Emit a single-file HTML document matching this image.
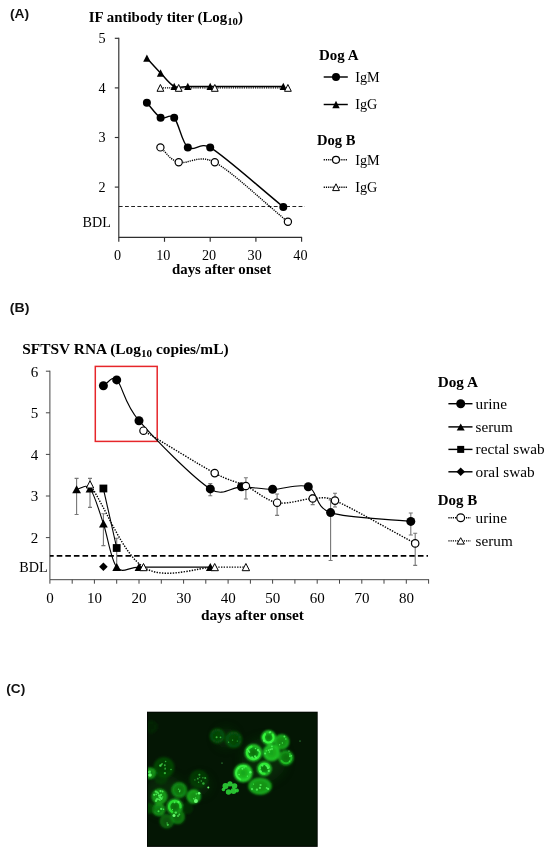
<!DOCTYPE html>
<html><head><meta charset="utf-8"><title>Figure</title>
<style>
html,body{margin:0;padding:0;background:#fff}
svg{display:block}
text{font-family:"Liberation Serif",serif;fill:#000}
.lab{font-family:"Liberation Sans",sans-serif;font-weight:bold;font-size:13.4px;fill:#111}
.b{font-weight:bold;font-size:14.8px}
.b2{font-weight:bold;font-size:15.3px}
.r{font-size:14.2px}
.r2{font-size:15px}
.ax{stroke:#2e2e2e;stroke-width:1.15;fill:none}
.ax2{stroke:#444;stroke-width:1;fill:none}
.ln{stroke:#000;stroke-width:1.45;fill:none}
.dot{stroke:#000;stroke-width:1.4;fill:none;stroke-dasharray:1.2 1.0}
.ln2{stroke:#000;stroke-width:1.1;fill:none}
.dot2{stroke:#000;stroke-width:1.4;fill:none;stroke-dasharray:1.4 1.3}
.err{stroke:#777;stroke-width:1.1;fill:none}
</style></head><body>
<svg width="550" height="853" viewBox="0 0 550 853">
<defs>
<clipPath id="cimg"><rect x="148" y="712.6" width="168.8" height="133.2"/></clipPath>
<radialGradient id="cg0"><stop offset="0" stop-color="rgb(8,91,9)" stop-opacity="0.64"/><stop offset="0.55" stop-color="rgb(9,95,10)" stop-opacity="0.64"/><stop offset="0.8" stop-color="rgb(10,103,11)" stop-opacity="0.74"/><stop offset="0.92" stop-color="rgb(8,87,8)" stop-opacity="0.45"/><stop offset="1" stop-color="rgb(5,61,5)" stop-opacity="0"/></radialGradient>
<radialGradient id="cg1"><stop offset="0" stop-color="rgb(8,89,9)" stop-opacity="0.64"/><stop offset="0.55" stop-color="rgb(9,95,10)" stop-opacity="0.64"/><stop offset="0.8" stop-color="rgb(10,105,11)" stop-opacity="0.74"/><stop offset="0.92" stop-color="rgb(8,88,8)" stop-opacity="0.45"/><stop offset="1" stop-color="rgb(5,62,5)" stop-opacity="0"/></radialGradient>
<radialGradient id="cg2"><stop offset="0" stop-color="rgb(4,48,4)" stop-opacity="0.45"/><stop offset="0.55" stop-color="rgb(4,48,4)" stop-opacity="0.45"/><stop offset="0.8" stop-color="rgb(4,48,4)" stop-opacity="0.55"/><stop offset="0.92" stop-color="rgb(4,43,4)" stop-opacity="0.32"/><stop offset="1" stop-color="rgb(4,34,4)" stop-opacity="0"/></radialGradient>
<radialGradient id="cg3"><stop offset="0" stop-color="rgb(8,88,9)" stop-opacity="0.61"/><stop offset="0.55" stop-color="rgb(8,90,9)" stop-opacity="0.61"/><stop offset="0.8" stop-color="rgb(9,94,9)" stop-opacity="0.71"/><stop offset="0.92" stop-color="rgb(7,79,7)" stop-opacity="0.43"/><stop offset="1" stop-color="rgb(5,57,5)" stop-opacity="0"/></radialGradient>
<radialGradient id="cg4"><stop offset="0" stop-color="rgb(17,142,20)" stop-opacity="0.87"/><stop offset="0.55" stop-color="rgb(20,155,23)" stop-opacity="0.87"/><stop offset="0.8" stop-color="rgb(26,176,30)" stop-opacity="0.97"/><stop offset="0.92" stop-color="rgb(18,145,20)" stop-opacity="0.61"/><stop offset="1" stop-color="rgb(9,98,10)" stop-opacity="0"/></radialGradient>
<radialGradient id="cg5"><stop offset="0" stop-color="rgb(6,73,7)" stop-opacity="0.54"/><stop offset="0.55" stop-color="rgb(6,73,7)" stop-opacity="0.54"/><stop offset="0.8" stop-color="rgb(6,73,7)" stop-opacity="0.64"/><stop offset="0.92" stop-color="rgb(5,63,6)" stop-opacity="0.38"/><stop offset="1" stop-color="rgb(4,46,4)" stop-opacity="0"/></radialGradient>
<radialGradient id="cg6"><stop offset="0" stop-color="rgb(21,156,24)" stop-opacity="0.87"/><stop offset="0.55" stop-color="rgb(22,160,25)" stop-opacity="0.87"/><stop offset="0.8" stop-color="rgb(24,168,27)" stop-opacity="0.97"/><stop offset="0.92" stop-color="rgb(17,138,19)" stop-opacity="0.61"/><stop offset="1" stop-color="rgb(9,94,9)" stop-opacity="0"/></radialGradient>
<radialGradient id="cg7"><stop offset="0" stop-color="rgb(15,130,17)" stop-opacity="0.82"/><stop offset="0.55" stop-color="rgb(17,141,19)" stop-opacity="0.82"/><stop offset="0.8" stop-color="rgb(22,161,25)" stop-opacity="0.92"/><stop offset="0.92" stop-color="rgb(15,132,17)" stop-opacity="0.57"/><stop offset="1" stop-color="rgb(8,90,9)" stop-opacity="0"/></radialGradient>
<radialGradient id="cg8"><stop offset="0" stop-color="rgb(21,155,23)" stop-opacity="0.90"/><stop offset="0.55" stop-color="rgb(23,164,26)" stop-opacity="0.90"/><stop offset="0.8" stop-color="rgb(27,180,31)" stop-opacity="1.00"/><stop offset="0.92" stop-color="rgb(19,148,21)" stop-opacity="0.63"/><stop offset="1" stop-color="rgb(9,100,10)" stop-opacity="0"/></radialGradient>
<radialGradient id="cg9"><stop offset="0" stop-color="rgb(6,74,7)" stop-opacity="0.56"/><stop offset="0.55" stop-color="rgb(6,76,7)" stop-opacity="0.56"/><stop offset="0.8" stop-color="rgb(7,79,7)" stop-opacity="0.66"/><stop offset="0.92" stop-color="rgb(6,67,6)" stop-opacity="0.39"/><stop offset="1" stop-color="rgb(4,49,4)" stop-opacity="0"/></radialGradient>
<radialGradient id="cg10"><stop offset="0" stop-color="rgb(10,103,11)" stop-opacity="0.90"/><stop offset="0.55" stop-color="rgb(18,143,20)" stop-opacity="0.90"/><stop offset="0.8" stop-color="rgb(38,211,43)" stop-opacity="1.00"/><stop offset="0.92" stop-color="rgb(25,173,29)" stop-opacity="0.63"/><stop offset="1" stop-color="rgb(12,115,13)" stop-opacity="0"/></radialGradient>
<radialGradient id="cg11"><stop offset="0" stop-color="rgb(16,136,18)" stop-opacity="0.84"/><stop offset="0.55" stop-color="rgb(19,148,21)" stop-opacity="0.84"/><stop offset="0.8" stop-color="rgb(24,168,27)" stop-opacity="0.94"/><stop offset="0.92" stop-color="rgb(17,139,19)" stop-opacity="0.59"/><stop offset="1" stop-color="rgb(9,94,9)" stop-opacity="0"/></radialGradient>
<radialGradient id="cg12"><stop offset="0" stop-color="rgb(10,105,11)" stop-opacity="0.71"/><stop offset="0.55" stop-color="rgb(12,114,13)" stop-opacity="0.71"/><stop offset="0.8" stop-color="rgb(15,129,16)" stop-opacity="0.81"/><stop offset="0.92" stop-color="rgb(11,107,12)" stop-opacity="0.50"/><stop offset="1" stop-color="rgb(6,74,7)" stop-opacity="0"/></radialGradient>
<radialGradient id="cg13"><stop offset="0" stop-color="rgb(13,120,14)" stop-opacity="0.78"/><stop offset="0.55" stop-color="rgb(15,131,17)" stop-opacity="0.78"/><stop offset="0.8" stop-color="rgb(19,149,22)" stop-opacity="0.88"/><stop offset="0.92" stop-color="rgb(13,123,15)" stop-opacity="0.55"/><stop offset="1" stop-color="rgb(7,84,8)" stop-opacity="0"/></radialGradient>
<radialGradient id="cg14"><stop offset="0" stop-color="rgb(5,63,6)" stop-opacity="0.51"/><stop offset="0.55" stop-color="rgb(5,63,6)" stop-opacity="0.51"/><stop offset="0.8" stop-color="rgb(5,63,6)" stop-opacity="0.61"/><stop offset="0.92" stop-color="rgb(5,54,5)" stop-opacity="0.35"/><stop offset="1" stop-color="rgb(4,41,4)" stop-opacity="0"/></radialGradient>
<radialGradient id="cg15"><stop offset="0" stop-color="rgb(8,91,9)" stop-opacity="0.61"/><stop offset="0.55" stop-color="rgb(8,91,9)" stop-opacity="0.61"/><stop offset="0.8" stop-color="rgb(8,91,9)" stop-opacity="0.71"/><stop offset="0.92" stop-color="rgb(7,77,7)" stop-opacity="0.43"/><stop offset="1" stop-color="rgb(5,55,5)" stop-opacity="0"/></radialGradient>
<radialGradient id="cg16"><stop offset="0" stop-color="rgb(12,114,13)" stop-opacity="0.97"/><stop offset="0.55" stop-color="rgb(22,161,25)" stop-opacity="0.97"/><stop offset="0.8" stop-color="rgb(48,239,55)" stop-opacity="1.00"/><stop offset="0.92" stop-color="rgb(32,195,37)" stop-opacity="0.68"/><stop offset="1" stop-color="rgb(15,129,16)" stop-opacity="0"/></radialGradient>
<radialGradient id="cg17"><stop offset="0" stop-color="rgb(19,148,21)" stop-opacity="0.90"/><stop offset="0.55" stop-color="rgb(22,161,25)" stop-opacity="0.90"/><stop offset="0.8" stop-color="rgb(29,184,33)" stop-opacity="1.00"/><stop offset="0.92" stop-color="rgb(20,151,22)" stop-opacity="0.63"/><stop offset="1" stop-color="rgb(10,102,11)" stop-opacity="0"/></radialGradient>
<radialGradient id="cg18"><stop offset="0" stop-color="rgb(10,104,11)" stop-opacity="0.94"/><stop offset="0.55" stop-color="rgb(19,151,22)" stop-opacity="0.94"/><stop offset="0.8" stop-color="rgb(44,227,50)" stop-opacity="1.00"/><stop offset="0.92" stop-color="rgb(29,186,33)" stop-opacity="0.65"/><stop offset="1" stop-color="rgb(14,123,15)" stop-opacity="0"/></radialGradient>
<radialGradient id="cg19"><stop offset="0" stop-color="rgb(23,166,27)" stop-opacity="0.97"/><stop offset="0.55" stop-color="rgb(28,182,32)" stop-opacity="0.97"/><stop offset="0.8" stop-color="rgb(36,208,42)" stop-opacity="1.00"/><stop offset="0.92" stop-color="rgb(25,170,28)" stop-opacity="0.68"/><stop offset="1" stop-color="rgb(12,114,13)" stop-opacity="0"/></radialGradient>
<radialGradient id="cg20"><stop offset="0" stop-color="rgb(13,122,15)" stop-opacity="0.84"/><stop offset="0.55" stop-color="rgb(18,142,20)" stop-opacity="0.84"/><stop offset="0.8" stop-color="rgb(26,177,30)" stop-opacity="0.94"/><stop offset="0.92" stop-color="rgb(18,145,21)" stop-opacity="0.59"/><stop offset="1" stop-color="rgb(9,98,10)" stop-opacity="0"/></radialGradient>
<radialGradient id="cg21"><stop offset="0" stop-color="rgb(11,109,12)" stop-opacity="0.94"/><stop offset="0.55" stop-color="rgb(20,152,22)" stop-opacity="0.94"/><stop offset="0.8" stop-color="rgb(43,225,49)" stop-opacity="1.00"/><stop offset="0.92" stop-color="rgb(29,184,33)" stop-opacity="0.65"/><stop offset="1" stop-color="rgb(13,122,15)" stop-opacity="0"/></radialGradient>
<radialGradient id="cg22"><stop offset="0" stop-color="rgb(22,160,25)" stop-opacity="1.00"/><stop offset="0.55" stop-color="rgb(30,188,34)" stop-opacity="1.00"/><stop offset="0.8" stop-color="rgb(46,235,53)" stop-opacity="1.00"/><stop offset="0.92" stop-color="rgb(31,192,35)" stop-opacity="0.70"/><stop offset="1" stop-color="rgb(14,127,16)" stop-opacity="0"/></radialGradient>
<radialGradient id="cg23"><stop offset="0" stop-color="rgb(21,155,23)" stop-opacity="0.90"/><stop offset="0.55" stop-color="rgb(23,164,26)" stop-opacity="0.90"/><stop offset="0.8" stop-color="rgb(27,180,31)" stop-opacity="1.00"/><stop offset="0.92" stop-color="rgb(19,148,21)" stop-opacity="0.63"/><stop offset="1" stop-color="rgb(9,100,10)" stop-opacity="0"/></radialGradient>
<filter id="bl" x="-5%" y="-5%" width="110%" height="110%"><feGaussianBlur stdDeviation="0.9"/></filter>
<filter id="bl2" x="-5%" y="-5%" width="110%" height="110%"><feGaussianBlur stdDeviation="0.6"/></filter>
<filter id="bl3" x="-20%" y="-20%" width="140%" height="140%"><feGaussianBlur stdDeviation="5"/></filter>
</defs>
<rect width="550" height="853" fill="#fff"/>
<g id="pa">
<text x="10" y="18.4" class="lab" textLength="19.2" lengthAdjust="spacingAndGlyphs">(A)</text>
<text x="88.8" y="22.3" class="b" textLength="154.2" lengthAdjust="spacingAndGlyphs">IF antibody titer (Log<tspan font-size="10.8" dy="3">10</tspan><tspan dy="-3">)</tspan></text>
<path d="M118.8,37.8 V237.4 H302.1" class="ax"/>
<path d="M114.8,187.1 H118.8" class="ax"/>
<text x="105.5" y="191.7" class="r" text-anchor="end">2</text>
<path d="M114.8,137.5 H118.8" class="ax"/>
<text x="105.5" y="142.1" class="r" text-anchor="end">3</text>
<path d="M114.8,87.9 H118.8" class="ax"/>
<text x="105.5" y="92.5" class="r" text-anchor="end">4</text>
<path d="M114.8,38.3 H118.8" class="ax"/>
<text x="105.5" y="42.9" class="r" text-anchor="end">5</text>
<path d="M118.8,237.4 v4.4" class="ax"/>
<text x="117.6" y="259.7" class="r" text-anchor="middle">0</text>
<path d="M164.5,237.4 v4.4" class="ax"/>
<text x="163.3" y="259.7" class="r" text-anchor="middle">10</text>
<path d="M210.2,237.4 v4.4" class="ax"/>
<text x="209.0" y="259.7" class="r" text-anchor="middle">20</text>
<path d="M255.9,237.4 v4.4" class="ax"/>
<text x="254.7" y="259.7" class="r" text-anchor="middle">30</text>
<path d="M301.6,237.4 v4.4" class="ax"/>
<text x="300.4" y="259.7" class="r" text-anchor="middle">40</text>
<text x="82.6" y="226.7" class="r" textLength="28.2" lengthAdjust="spacingAndGlyphs">BDL</text>
<text x="172" y="274" class="b" textLength="99.2" lengthAdjust="spacingAndGlyphs">days after onset</text>
<path d="M118.8,206.5 H305" stroke="#222" stroke-width="1.1" stroke-dasharray="3.8 2.4" fill="none"/>
<path d="M160.39,87.90 C166.48,87.90 169.60,87.90 178.67,87.90 C187.73,87.90 196.72,87.90 214.77,87.90 C232.97,87.90 263.52,87.90 287.89,87.90" class="dot"/>
<path d="M160.39,147.42 C166.48,152.38 169.60,159.82 178.67,162.30 C187.73,164.78 198.92,153.66 214.77,162.30 C232.97,172.22 263.52,201.98 287.89,221.82" class="dot"/>
<path d="M146.91,58.14 C151.48,63.10 156.07,68.31 160.62,73.02 C165.16,77.73 169.66,84.18 174.19,86.41 C178.72,88.64 181.81,86.41 187.81,86.41 C193.81,86.41 199.00,86.41 210.20,86.41 C226.12,86.41 258.95,86.41 283.32,86.41" class="ln"/>
<path d="M146.91,102.78 C151.48,107.74 156.07,115.18 160.62,117.66 C165.16,120.14 169.66,112.70 174.19,117.66 C178.72,122.62 181.81,142.46 187.81,147.42 C193.81,152.38 200.70,141.50 210.20,147.42 C226.12,157.34 258.95,187.10 283.32,206.94" class="ln"/>
<polygon points="146.9,54.4 150.6,61.8 143.2,61.8" fill="#000"/>
<polygon points="160.6,69.3 164.3,76.7 156.9,76.7" fill="#000"/>
<polygon points="174.2,82.7 177.9,90.1 170.5,90.1" fill="#000"/>
<polygon points="187.8,82.7 191.5,90.1 184.1,90.1" fill="#000"/>
<polygon points="210.2,82.7 213.9,90.1 206.5,90.1" fill="#000"/>
<polygon points="283.3,82.7 287.0,90.1 279.6,90.1" fill="#000"/>
<polygon points="160.4,84.5 163.8,91.3 157.0,91.3" fill="#fff" stroke="#000" stroke-width="1"/>
<polygon points="178.7,84.5 182.1,91.3 175.3,91.3" fill="#fff" stroke="#000" stroke-width="1"/>
<polygon points="214.8,84.5 218.2,91.3 211.4,91.3" fill="#fff" stroke="#000" stroke-width="1"/>
<polygon points="287.9,84.5 291.3,91.3 284.5,91.3" fill="#fff" stroke="#000" stroke-width="1"/>
<circle cx="146.9" cy="102.8" r="4.0" fill="#000"/>
<circle cx="160.6" cy="117.7" r="4.0" fill="#000"/>
<circle cx="174.2" cy="117.7" r="4.0" fill="#000"/>
<circle cx="187.8" cy="147.4" r="4.0" fill="#000"/>
<circle cx="210.2" cy="147.4" r="4.0" fill="#000"/>
<circle cx="283.3" cy="206.9" r="4.0" fill="#000"/>
<circle cx="160.4" cy="147.4" r="3.6" fill="#fff" stroke="#000" stroke-width="1.2"/>
<circle cx="178.7" cy="162.3" r="3.6" fill="#fff" stroke="#000" stroke-width="1.2"/>
<circle cx="214.8" cy="162.3" r="3.6" fill="#fff" stroke="#000" stroke-width="1.2"/>
<circle cx="287.9" cy="221.8" r="3.6" fill="#fff" stroke="#000" stroke-width="1.2"/>
<text x="319" y="59.8" class="b" textLength="39.5" lengthAdjust="spacingAndGlyphs">Dog A</text>
<text x="317" y="144.5" class="b" textLength="38.5" lengthAdjust="spacingAndGlyphs">Dog B</text>
<path d="M323.7,77 H347.8" class="ln"/>
<circle cx="336.0" cy="77.0" r="4.0" fill="#000"/>
<text x="355.2" y="81.7" class="r">IgM</text>
<path d="M323.7,104.5 H347.8" class="ln"/>
<polygon points="336.0,100.8 339.7,108.2 332.3,108.2" fill="#000"/>
<text x="355.2" y="109.2" class="r">IgG</text>
<path d="M323.7,159.8 H347" class="dot"/>
<circle cx="336.0" cy="159.8" r="3.5" fill="#fff" stroke="#000" stroke-width="1.2"/>
<text x="355.2" y="164.5" class="r">IgM</text>
<path d="M323.7,187.2 H347" class="dot"/>
<polygon points="336.0,183.8 339.4,190.6 332.6,190.6" fill="#fff" stroke="#000" stroke-width="1"/>
<text x="355.2" y="191.9" class="r">IgG</text>
</g>
<g id="pb">
<text x="9.8" y="311.6" class="lab" textLength="19.6" lengthAdjust="spacingAndGlyphs">(B)</text>
<text x="22.3" y="353.6" class="b2" textLength="206.3" lengthAdjust="spacingAndGlyphs">SFTSV RNA (Log<tspan font-size="11" dy="3">10</tspan><tspan dy="-3"> copies/mL)</tspan></text>
<path d="M49.9,370.7 V579.7 H429.075" class="ax2"/>
<path d="M45.9,537.6 H49.9" class="ax2"/>
<text x="38.3" y="542.9" class="r2" text-anchor="end">2</text>
<path d="M45.9,496.0 H49.9" class="ax2"/>
<text x="38.3" y="501.3" class="r2" text-anchor="end">3</text>
<path d="M45.9,454.4 H49.9" class="ax2"/>
<text x="38.3" y="459.7" class="r2" text-anchor="end">4</text>
<path d="M45.9,412.8 H49.9" class="ax2"/>
<text x="38.3" y="418.1" class="r2" text-anchor="end">5</text>
<path d="M45.9,371.2 H49.9" class="ax2"/>
<text x="38.3" y="376.5" class="r2" text-anchor="end">6</text>
<path d="M49.9,579.7 v4" class="ax2"/>
<path d="M72.2,579.7 v4" class="ax2"/>
<path d="M94.4,579.7 v4" class="ax2"/>
<path d="M116.7,579.7 v4" class="ax2"/>
<path d="M139.0,579.7 v4" class="ax2"/>
<path d="M161.3,579.7 v4" class="ax2"/>
<path d="M183.6,579.7 v4" class="ax2"/>
<path d="M205.8,579.7 v4" class="ax2"/>
<path d="M228.1,579.7 v4" class="ax2"/>
<path d="M250.4,579.7 v4" class="ax2"/>
<path d="M272.6,579.7 v4" class="ax2"/>
<path d="M294.9,579.7 v4" class="ax2"/>
<path d="M317.2,579.7 v4" class="ax2"/>
<path d="M339.5,579.7 v4" class="ax2"/>
<path d="M361.8,579.7 v4" class="ax2"/>
<path d="M384.0,579.7 v4" class="ax2"/>
<path d="M406.3,579.7 v4" class="ax2"/>
<path d="M428.6,579.7 v4" class="ax2"/>
<text x="50.0" y="603.1" class="r2" text-anchor="middle">0</text>
<text x="94.5" y="603.1" class="r2" text-anchor="middle">10</text>
<text x="139.1" y="603.1" class="r2" text-anchor="middle">20</text>
<text x="183.7" y="603.1" class="r2" text-anchor="middle">30</text>
<text x="228.2" y="603.1" class="r2" text-anchor="middle">40</text>
<text x="272.8" y="603.1" class="r2" text-anchor="middle">50</text>
<text x="317.3" y="603.1" class="r2" text-anchor="middle">60</text>
<text x="361.9" y="603.1" class="r2" text-anchor="middle">70</text>
<text x="406.4" y="603.1" class="r2" text-anchor="middle">80</text>
<text x="19.3" y="572.2" class="r2" textLength="28.3" lengthAdjust="spacingAndGlyphs">BDL</text>
<text x="201" y="619.5" class="b2" textLength="103" lengthAdjust="spacingAndGlyphs">days after onset</text>
<path d="M49.9,555.9 H428" stroke="#000" stroke-width="1.6" stroke-dasharray="5.6 3" stroke-dashoffset="1.8" fill="none"/>
<rect x="95.3" y="366.4" width="61.9" height="75" fill="none" stroke="#e6262a" stroke-width="1.5"/>
<path d="M76.6,478.4 V514.5 M74.6,478.4 h4 M74.6,514.5 h4" class="err"/>
<path d="M90.0,478.4 V507.4 M88.0,478.4 h4 M88.0,507.4 h4" class="err"/>
<path d="M103.4,513.8 V545.6 M101.4,513.8 h4 M101.4,545.6 h4" class="err"/>
<path d="M116.7,538.2 V567.0 M114.7,538.2 h4 M114.7,567.0 h4" class="err"/>
<path d="M210.3,483.5 V495.8 M208.3,483.5 h4 M208.3,495.8 h4" class="err"/>
<path d="M245.9,477.8 V499.0 M243.9,477.8 h4 M243.9,499.0 h4" class="err"/>
<path d="M277.1,494.0 V515.4 M275.1,494.0 h4 M275.1,515.4 h4" class="err"/>
<path d="M312.7,494.5 V504.6 M310.7,494.5 h4 M310.7,504.6 h4" class="err"/>
<path d="M335.0,493.2 V507.0 M333.0,493.2 h4 M333.0,507.0 h4" class="err"/>
<path d="M330.6,500.0 V560.5 M328.6,500.0 h4 M328.6,560.5 h4" class="err"/>
<path d="M410.8,513.0 V535.0 M408.8,513.0 h4 M408.8,535.0 h4" class="err"/>
<path d="M415.2,533.3 V565.4 M413.2,533.3 h4 M413.2,565.4 h4" class="err"/>
<path d="M90.00,484.35 C107.82,511.95 122.67,553.34 143.46,567.14 C164.25,580.93 197.66,567.14 214.74,567.14 C230.33,567.14 235.53,567.14 245.92,567.14" class="dot2"/>
<path d="M143.46,430.69 C167.22,444.83 197.66,463.90 214.74,473.12 C229.58,481.14 235.53,481.09 245.92,486.02 C256.31,490.94 265.97,500.58 277.11,502.66 C288.24,504.74 303.09,498.84 312.75,498.50 C322.40,498.15 324.78,496.08 335.02,500.58 C352.10,508.06 388.48,529.14 415.21,543.42" class="dot2"/>
<path d="M76.63,489.34 C81.08,489.07 85.87,483.24 90.00,488.51 C94.45,494.20 98.91,510.35 103.36,523.46 C107.81,536.56 110.78,559.86 116.72,567.14 C122.66,574.42 127.86,567.14 139.00,567.14 C154.59,567.14 186.52,567.14 210.28,567.14" class="ln2"/>
<path d="M103.36,488.51 L116.72,548.00" class="ln2"/>
<path d="M103.36,385.76 C107.81,383.82 111.52,374.83 116.72,379.94 C122.66,385.76 123.87,403.08 139.00,420.70 C154.59,438.87 193.20,477.90 210.28,488.93 C223.41,497.40 231.07,486.78 241.47,486.85 C251.86,486.92 261.51,489.34 272.65,489.34 C283.79,489.34 298.64,482.97 308.29,486.85 C317.94,490.73 314.42,507.20 330.56,512.64 C347.64,518.39 384.02,518.46 410.75,521.38" class="ln2"/>
<polygon points="76.6,485.3 81.0,493.3 72.2,493.3" fill="#000"/>
<polygon points="90.0,484.5 94.4,492.5 85.6,492.5" fill="#000"/>
<polygon points="103.4,519.5 107.8,527.5 99.0,527.5" fill="#000"/>
<polygon points="116.7,563.1 121.1,571.1 112.3,571.1" fill="#000"/>
<polygon points="139.0,563.1 143.4,571.1 134.6,571.1" fill="#000"/>
<polygon points="210.3,563.1 214.7,571.1 205.9,571.1" fill="#000"/>
<rect x="99.5" y="484.6" width="7.8" height="7.8" fill="#000"/>
<rect x="112.8" y="544.1" width="7.8" height="7.8" fill="#000"/>
<polygon points="103.4,562.4 107.7,566.7 103.4,571.0 99.1,566.7" fill="#000"/>
<polygon points="90.0,480.8 93.7,488.0 86.3,488.0" fill="#fff" stroke="#000" stroke-width="1"/>
<polygon points="143.5,563.5 147.2,570.7 139.8,570.7" fill="#fff" stroke="#000" stroke-width="1"/>
<polygon points="214.7,563.5 218.4,570.7 211.0,570.7" fill="#fff" stroke="#000" stroke-width="1"/>
<polygon points="245.9,563.5 249.6,570.7 242.2,570.7" fill="#fff" stroke="#000" stroke-width="1"/>
<circle cx="103.4" cy="385.8" r="4.5" fill="#000"/>
<circle cx="116.7" cy="379.9" r="4.5" fill="#000"/>
<circle cx="139.0" cy="420.7" r="4.5" fill="#000"/>
<circle cx="210.3" cy="488.9" r="4.5" fill="#000"/>
<circle cx="241.5" cy="486.8" r="4.5" fill="#000"/>
<circle cx="272.6" cy="489.3" r="4.5" fill="#000"/>
<circle cx="308.3" cy="486.8" r="4.5" fill="#000"/>
<circle cx="330.6" cy="512.6" r="4.5" fill="#000"/>
<circle cx="410.8" cy="521.4" r="4.5" fill="#000"/>
<circle cx="143.5" cy="430.7" r="3.7" fill="#fff" stroke="#000" stroke-width="1.2"/>
<circle cx="214.7" cy="473.1" r="3.7" fill="#fff" stroke="#000" stroke-width="1.2"/>
<circle cx="245.9" cy="486.0" r="3.7" fill="#fff" stroke="#000" stroke-width="1.2"/>
<circle cx="277.1" cy="502.7" r="3.7" fill="#fff" stroke="#000" stroke-width="1.2"/>
<circle cx="312.7" cy="498.5" r="3.7" fill="#fff" stroke="#000" stroke-width="1.2"/>
<circle cx="335.0" cy="500.6" r="3.7" fill="#fff" stroke="#000" stroke-width="1.2"/>
<circle cx="415.2" cy="543.4" r="3.7" fill="#fff" stroke="#000" stroke-width="1.2"/>
<text x="437.7" y="386.5" class="b2" textLength="40.2" lengthAdjust="spacingAndGlyphs">Dog A</text>
<text x="437.7" y="504.7" class="b2" textLength="39.5" lengthAdjust="spacingAndGlyphs">Dog B</text>
<path d="M448.4,403.7 H472.5" class="ln"/>
<circle cx="460.7" cy="403.7" r="4.5" fill="#000"/>
<text x="475.6" y="408.6" class="r2" textLength="31.4" lengthAdjust="spacingAndGlyphs">urine</text>
<path d="M448.4,426.9 H472.5" class="ln"/>
<polygon points="460.7,423.4 464.7,430.4 456.7,430.4" fill="#000"/>
<text x="475.6" y="431.8" class="r2" textLength="37.1" lengthAdjust="spacingAndGlyphs">serum</text>
<path d="M448.4,449.4 H472.5" class="ln"/>
<rect x="457.2" y="445.9" width="7.0" height="7.0" fill="#000"/>
<text x="475.6" y="454.3" class="r2" textLength="69" lengthAdjust="spacingAndGlyphs">rectal swab</text>
<path d="M448.4,471.8 H472.5" class="ln"/>
<polygon points="460.7,467.5 465.0,471.8 460.7,476.1 456.4,471.8" fill="#000"/>
<text x="475.6" y="476.7" class="r2" textLength="59.1" lengthAdjust="spacingAndGlyphs">oral swab</text>
<path d="M448.4,517.7 H470.8" class="dot"/>
<circle cx="460.7" cy="517.7" r="3.9" fill="#fff" stroke="#000" stroke-width="1.2"/>
<text x="475.6" y="522.6" class="r2" textLength="31.4" lengthAdjust="spacingAndGlyphs">urine</text>
<path d="M448.4,540.9 H470.8" class="dot"/>
<polygon points="460.7,537.7 464.4,544.1 457.0,544.1" fill="#fff" stroke="#000" stroke-width="1"/>
<text x="475.6" y="545.8" class="r2" textLength="37.1" lengthAdjust="spacingAndGlyphs">serum</text>
</g>
<g id="pc">
<text x="6.3" y="692.5" class="lab" textLength="19" lengthAdjust="spacingAndGlyphs">(C)</text>
<rect x="147" y="711.7" width="170.7" height="135.2" fill="#010601"/>
<rect x="148" y="712.6" width="168.8" height="133.2" fill="#041604"/>
<g clip-path="url(#cimg)">
<g filter="url(#bl3)" opacity="0.5">
<circle cx="165" cy="795" r="20" fill="#0b3a0d"/>
<circle cx="264" cy="760" r="22" fill="#0b3a0d"/>
<circle cx="200" cy="785" r="10" fill="#0b3a0d"/>
<circle cx="226" cy="738" r="10" fill="#0b3a0d"/>
</g>
<g filter="url(#bl)">
<ellipse cx="217.3" cy="735.9" rx="8.3" ry="8.3" fill="url(#cg0)"/>
<ellipse cx="233.7" cy="739.6" rx="9.3" ry="9.3" fill="url(#cg1)"/>
<ellipse cx="151" cy="726.8" rx="7.3" ry="7.3" fill="url(#cg2)"/>
<ellipse cx="163.9" cy="767.5" rx="11.3" ry="11.3" fill="url(#cg3)"/>
<ellipse cx="150" cy="773.3" rx="6.3" ry="6.3" fill="url(#cg4)"/>
<ellipse cx="161" cy="777.6" rx="7.3" ry="7.3" fill="url(#cg5)"/>
<ellipse cx="159.5" cy="796.5" rx="8.6" ry="8.6" fill="url(#cg6)"/>
<ellipse cx="179.2" cy="790" rx="8.6" ry="8.6" fill="url(#cg7)"/>
<ellipse cx="193.7" cy="796.5" rx="7.8" ry="7.8" fill="url(#cg8)"/>
<ellipse cx="198.8" cy="779" rx="10.0" ry="10.0" fill="url(#cg9)"/>
<ellipse cx="174.8" cy="806.7" rx="8.6" ry="8.6" fill="url(#cg10)"/>
<ellipse cx="158.8" cy="809.6" rx="7.1" ry="7.1" fill="url(#cg11)"/>
<ellipse cx="166.8" cy="821.3" rx="7.8" ry="7.8" fill="url(#cg12)"/>
<ellipse cx="177.7" cy="817" rx="7.8" ry="7.8" fill="url(#cg13)"/>
<ellipse cx="187.2" cy="808.2" rx="6.3" ry="6.3" fill="url(#cg14)"/>
<ellipse cx="149.4" cy="808.2" rx="5.8" ry="5.8" fill="url(#cg15)"/>
<ellipse cx="268.6" cy="737.5" rx="7.8" ry="7.8" fill="url(#cg16)"/>
<ellipse cx="281.7" cy="741.8" rx="8.3" ry="8.3" fill="url(#cg17)"/>
<ellipse cx="253.4" cy="752.7" rx="9.3" ry="9.3" fill="url(#cg18)"/>
<ellipse cx="271.5" cy="752.7" rx="9.3" ry="9.3" fill="url(#cg19)"/>
<ellipse cx="286" cy="757.8" rx="8.3" ry="8.3" fill="url(#cg20)"/>
<ellipse cx="264.3" cy="768.7" rx="7.8" ry="7.8" fill="url(#cg21)"/>
<ellipse cx="243.2" cy="773" rx="10.0" ry="10.0" fill="url(#cg22)"/>
<ellipse cx="260" cy="786.2" rx="12.8" ry="9.3" fill="url(#cg23)"/>
</g>
<g filter="url(#bl2)">
<circle cx="216.6" cy="737.2" r="0.99" fill="#52f85c" fill-opacity="0.62"/>
<circle cx="220.5" cy="737.4" r="0.82" fill="#52f85c" fill-opacity="0.62"/>
<circle cx="237.3" cy="741.0" r="0.62" fill="#52f85c" fill-opacity="0.62"/>
<circle cx="232.6" cy="740.1" r="0.65" fill="#52f85c" fill-opacity="0.62"/>
<circle cx="228.6" cy="742.2" r="0.67" fill="#52f85c" fill-opacity="0.62"/>
<circle cx="164.9" cy="773.1" r="1.17" fill="#52f85c" fill-opacity="0.60"/>
<circle cx="160.4" cy="765.7" r="1.19" fill="#52f85c" fill-opacity="0.60"/>
<circle cx="171.0" cy="769.6" r="0.77" fill="#52f85c" fill-opacity="0.60"/>
<circle cx="165.1" cy="769.0" r="0.79" fill="#52f85c" fill-opacity="0.60"/>
<circle cx="164.8" cy="765.3" r="0.95" fill="#52f85c" fill-opacity="0.60"/>
<circle cx="161.5" cy="764.6" r="0.93" fill="#52f85c" fill-opacity="0.60"/>
<circle cx="165.2" cy="768.1" r="0.72" fill="#52f85c" fill-opacity="0.60"/>
<circle cx="162.1" cy="763.7" r="0.79" fill="#52f85c" fill-opacity="0.60"/>
<circle cx="160.1" cy="765.3" r="0.78" fill="#52f85c" fill-opacity="0.60"/>
<circle cx="165.6" cy="761.5" r="0.75" fill="#52f85c" fill-opacity="0.60"/>
<circle cx="147.8" cy="772.2" r="1.13" fill="#52f85c" fill-opacity="0.80"/>
<circle cx="149.8" cy="771.7" r="1.19" fill="#52f85c" fill-opacity="0.80"/>
<circle cx="161.7" cy="798.5" r="1.05" fill="#52f85c" fill-opacity="0.80"/>
<circle cx="161.5" cy="799.3" r="0.62" fill="#52f85c" fill-opacity="0.80"/>
<circle cx="157.1" cy="792.2" r="0.94" fill="#52f85c" fill-opacity="0.80"/>
<circle cx="161.2" cy="794.8" r="1.02" fill="#52f85c" fill-opacity="0.80"/>
<circle cx="156.3" cy="794.3" r="0.87" fill="#52f85c" fill-opacity="0.80"/>
<circle cx="162.6" cy="791.5" r="0.88" fill="#52f85c" fill-opacity="0.80"/>
<circle cx="159.0" cy="795.6" r="1.02" fill="#52f85c" fill-opacity="0.80"/>
<circle cx="155.8" cy="791.6" r="1.09" fill="#52f85c" fill-opacity="0.80"/>
<circle cx="158.9" cy="799.3" r="1.00" fill="#52f85c" fill-opacity="0.80"/>
<circle cx="162.7" cy="797.0" r="0.70" fill="#52f85c" fill-opacity="0.80"/>
<circle cx="160.3" cy="797.2" r="1.06" fill="#52f85c" fill-opacity="0.80"/>
<circle cx="160.9" cy="798.0" r="0.83" fill="#52f85c" fill-opacity="0.80"/>
<circle cx="160.3" cy="795.7" r="0.87" fill="#52f85c" fill-opacity="0.80"/>
<circle cx="154.2" cy="794.8" r="1.09" fill="#52f85c" fill-opacity="0.80"/>
<circle cx="161.0" cy="794.8" r="0.85" fill="#52f85c" fill-opacity="0.80"/>
<circle cx="156.0" cy="800.8" r="1.17" fill="#52f85c" fill-opacity="0.80"/>
<circle cx="160.5" cy="797.9" r="0.74" fill="#52f85c" fill-opacity="0.80"/>
<circle cx="159.9" cy="799.9" r="0.95" fill="#52f85c" fill-opacity="0.80"/>
<circle cx="159.4" cy="797.3" r="0.85" fill="#52f85c" fill-opacity="0.80"/>
<circle cx="156.9" cy="799.3" r="1.17" fill="#52f85c" fill-opacity="0.80"/>
<circle cx="158.2" cy="793.2" r="0.97" fill="#52f85c" fill-opacity="0.80"/>
<circle cx="159.0" cy="795.6" r="1.14" fill="#52f85c" fill-opacity="0.80"/>
<circle cx="160.5" cy="791.1" r="1.08" fill="#52f85c" fill-opacity="0.80"/>
<circle cx="157.2" cy="798.3" r="0.66" fill="#52f85c" fill-opacity="0.80"/>
<circle cx="178.5" cy="789.2" r="0.64" fill="#52f85c" fill-opacity="0.76"/>
<circle cx="179.6" cy="791.6" r="0.80" fill="#52f85c" fill-opacity="0.76"/>
<circle cx="179.9" cy="790.2" r="0.69" fill="#52f85c" fill-opacity="0.76"/>
<circle cx="195.6" cy="797.9" r="0.62" fill="#52f85c" fill-opacity="0.82"/>
<circle cx="196.3" cy="793.9" r="0.69" fill="#52f85c" fill-opacity="0.82"/>
<circle cx="193.7" cy="798.8" r="0.82" fill="#52f85c" fill-opacity="0.82"/>
<circle cx="203.4" cy="783.5" r="1.20" fill="#52f85c" fill-opacity="0.56"/>
<circle cx="194.9" cy="779.9" r="0.65" fill="#52f85c" fill-opacity="0.56"/>
<circle cx="201.3" cy="780.9" r="0.76" fill="#52f85c" fill-opacity="0.56"/>
<circle cx="199.7" cy="777.3" r="0.61" fill="#52f85c" fill-opacity="0.56"/>
<circle cx="202.9" cy="777.7" r="0.69" fill="#52f85c" fill-opacity="0.56"/>
<circle cx="197.8" cy="778.7" r="0.92" fill="#52f85c" fill-opacity="0.56"/>
<circle cx="205.2" cy="778.1" r="1.02" fill="#52f85c" fill-opacity="0.56"/>
<circle cx="198.6" cy="782.3" r="0.70" fill="#52f85c" fill-opacity="0.56"/>
<circle cx="199.4" cy="774.7" r="1.07" fill="#52f85c" fill-opacity="0.56"/>
<ellipse cx="174.8" cy="806.7" rx="5.7" ry="5.7" fill="none" stroke="rgb(42,224,49)" stroke-width="2.3" stroke-opacity="0.90" stroke-linecap="round" stroke-dasharray="23.9 22.0" transform="rotate(119 174.8 806.7)"/>
<circle cx="175.8" cy="812.6" r="1.19" fill="#52f85c" fill-opacity="0.82"/>
<circle cx="178.4" cy="801.9" r="1.09" fill="#52f85c" fill-opacity="0.82"/>
<circle cx="174.5" cy="802.4" r="0.91" fill="#52f85c" fill-opacity="0.82"/>
<circle cx="172.5" cy="809.6" r="0.62" fill="#52f85c" fill-opacity="0.82"/>
<circle cx="158.5" cy="811.3" r="1.02" fill="#52f85c" fill-opacity="0.78"/>
<circle cx="161.2" cy="808.9" r="1.16" fill="#52f85c" fill-opacity="0.78"/>
<circle cx="163.5" cy="809.2" r="0.82" fill="#52f85c" fill-opacity="0.78"/>
<circle cx="167.1" cy="823.0" r="0.72" fill="#52f85c" fill-opacity="0.68"/>
<circle cx="167.8" cy="824.8" r="1.14" fill="#52f85c" fill-opacity="0.68"/>
<circle cx="179.3" cy="814.5" r="0.99" fill="#52f85c" fill-opacity="0.73"/>
<circle cx="178.0" cy="816.0" r="1.00" fill="#52f85c" fill-opacity="0.73"/>
<ellipse cx="268.6" cy="737.5" rx="4.9" ry="4.9" fill="none" stroke="rgb(54,252,62)" stroke-width="2.3" stroke-opacity="0.90" stroke-linecap="round" stroke-dasharray="21.2 19.6" transform="rotate(327 268.6 737.5)"/>
<circle cx="269.6" cy="732.4" r="0.89" fill="#52f85c" fill-opacity="0.88"/>
<circle cx="270.9" cy="742.3" r="0.80" fill="#52f85c" fill-opacity="0.88"/>
<circle cx="270.4" cy="732.0" r="0.84" fill="#52f85c" fill-opacity="0.88"/>
<circle cx="264.0" cy="740.8" r="1.03" fill="#52f85c" fill-opacity="0.88"/>
<circle cx="282.4" cy="743.0" r="0.69" fill="#52f85c" fill-opacity="0.82"/>
<circle cx="285.8" cy="739.0" r="0.69" fill="#52f85c" fill-opacity="0.82"/>
<circle cx="284.4" cy="736.6" r="0.99" fill="#52f85c" fill-opacity="0.82"/>
<circle cx="279.6" cy="744.7" r="0.68" fill="#52f85c" fill-opacity="0.82"/>
<ellipse cx="253.4" cy="752.7" rx="6.4" ry="6.4" fill="none" stroke="rgb(48,239,55)" stroke-width="2.3" stroke-opacity="0.93" stroke-linecap="round" stroke-dasharray="26.9 23.4" transform="rotate(5 253.4 752.7)"/>
<circle cx="259.4" cy="751.6" r="0.92" fill="#52f85c" fill-opacity="0.85"/>
<circle cx="258.3" cy="750.5" r="1.12" fill="#52f85c" fill-opacity="0.85"/>
<circle cx="255.5" cy="748.5" r="0.75" fill="#52f85c" fill-opacity="0.85"/>
<circle cx="252.1" cy="757.3" r="0.95" fill="#52f85c" fill-opacity="0.85"/>
<circle cx="253.1" cy="758.0" r="0.68" fill="#52f85c" fill-opacity="0.85"/>
<circle cx="257.7" cy="749.9" r="0.87" fill="#52f85c" fill-opacity="0.85"/>
<circle cx="247.4" cy="749.3" r="0.85" fill="#52f85c" fill-opacity="0.85"/>
<circle cx="258.3" cy="749.9" r="0.92" fill="#52f85c" fill-opacity="0.85"/>
<circle cx="249.4" cy="752.1" r="0.86" fill="#52f85c" fill-opacity="0.85"/>
<circle cx="255.0" cy="756.4" r="1.08" fill="#52f85c" fill-opacity="0.85"/>
<circle cx="256.0" cy="757.6" r="1.04" fill="#52f85c" fill-opacity="0.85"/>
<circle cx="248.7" cy="751.0" r="0.91" fill="#52f85c" fill-opacity="0.85"/>
<circle cx="266.3" cy="750.8" r="0.66" fill="#52f85c" fill-opacity="0.88"/>
<circle cx="269.4" cy="751.9" r="0.77" fill="#52f85c" fill-opacity="0.88"/>
<circle cx="272.0" cy="748.9" r="0.94" fill="#52f85c" fill-opacity="0.88"/>
<circle cx="271.9" cy="746.4" r="0.87" fill="#52f85c" fill-opacity="0.88"/>
<circle cx="268.6" cy="750.2" r="0.91" fill="#52f85c" fill-opacity="0.88"/>
<circle cx="270.3" cy="749.4" r="0.92" fill="#52f85c" fill-opacity="0.88"/>
<circle cx="265.1" cy="753.6" r="1.02" fill="#52f85c" fill-opacity="0.88"/>
<ellipse cx="286" cy="757.8" rx="5.4" ry="5.4" fill="none" stroke="rgb(35,205,40)" stroke-width="1.9" stroke-opacity="0.70" stroke-linecap="round" stroke-dasharray="17.6 26.4" transform="rotate(315 286 757.8)"/>
<circle cx="289.9" cy="756.3" r="0.94" fill="#52f85c" fill-opacity="0.78"/>
<circle cx="291.5" cy="755.7" r="0.68" fill="#52f85c" fill-opacity="0.78"/>
<circle cx="289.4" cy="761.1" r="0.64" fill="#52f85c" fill-opacity="0.78"/>
<ellipse cx="264.3" cy="768.7" rx="4.9" ry="4.9" fill="none" stroke="rgb(48,239,55)" stroke-width="2.3" stroke-opacity="0.90" stroke-linecap="round" stroke-dasharray="21.2 19.6" transform="rotate(87 264.3 768.7)"/>
<circle cx="268.8" cy="770.9" r="1.07" fill="#52f85c" fill-opacity="0.85"/>
<circle cx="267.2" cy="766.5" r="1.03" fill="#52f85c" fill-opacity="0.85"/>
<circle cx="262.4" cy="765.6" r="1.13" fill="#52f85c" fill-opacity="0.85"/>
<circle cx="268.0" cy="767.9" r="1.17" fill="#52f85c" fill-opacity="0.85"/>
<circle cx="260.7" cy="771.4" r="1.19" fill="#52f85c" fill-opacity="0.85"/>
<circle cx="266.1" cy="765.5" r="0.86" fill="#52f85c" fill-opacity="0.85"/>
<circle cx="260.2" cy="768.3" r="0.72" fill="#52f85c" fill-opacity="0.85"/>
<ellipse cx="243.2" cy="773" rx="7.1" ry="7.1" fill="none" stroke="rgb(63,252,73)" stroke-width="1.9" stroke-opacity="0.70" stroke-linecap="round" stroke-dasharray="21.9 32.8" transform="rotate(115 243.2 773)"/>
<circle cx="242.4" cy="768.7" r="0.93" fill="#52f85c" fill-opacity="0.92"/>
<circle cx="239.1" cy="774.6" r="0.80" fill="#52f85c" fill-opacity="0.92"/>
<circle cx="238.8" cy="768.7" r="0.64" fill="#52f85c" fill-opacity="0.92"/>
<circle cx="250.3" cy="772.3" r="1.18" fill="#52f85c" fill-opacity="0.92"/>
<circle cx="247.4" cy="776.2" r="0.62" fill="#52f85c" fill-opacity="0.92"/>
<circle cx="244.1" cy="767.8" r="0.68" fill="#52f85c" fill-opacity="0.92"/>
<circle cx="252.0" cy="789.1" r="1.09" fill="#52f85c" fill-opacity="0.82"/>
<circle cx="259.9" cy="787.9" r="1.15" fill="#52f85c" fill-opacity="0.82"/>
<circle cx="253.5" cy="784.1" r="0.65" fill="#52f85c" fill-opacity="0.82"/>
<circle cx="266.6" cy="787.9" r="0.86" fill="#52f85c" fill-opacity="0.82"/>
<circle cx="268.3" cy="789.0" r="0.98" fill="#52f85c" fill-opacity="0.82"/>
<circle cx="260.6" cy="785.0" r="1.11" fill="#52f85c" fill-opacity="0.82"/>
<circle cx="267.9" cy="788.6" r="0.87" fill="#52f85c" fill-opacity="0.82"/>
<circle cx="256.9" cy="789.7" r="1.16" fill="#52f85c" fill-opacity="0.82"/>
<circle cx="225.5" cy="786" r="3.0" fill="#2fdc3a" fill-opacity="0.85"/>
<circle cx="230" cy="783.8" r="2.6" fill="#2fdc3a" fill-opacity="0.85"/>
<circle cx="234.5" cy="786" r="2.8" fill="#2fdc3a" fill-opacity="0.85"/>
<circle cx="233.5" cy="791" r="2.9" fill="#2fdc3a" fill-opacity="0.85"/>
<circle cx="228.5" cy="792" r="2.7" fill="#2fdc3a" fill-opacity="0.85"/>
<circle cx="237" cy="790.5" r="1.9" fill="#2fdc3a" fill-opacity="0.85"/>
<circle cx="223.5" cy="789.5" r="1.8" fill="#2fdc3a" fill-opacity="0.85"/>
<circle cx="195.9" cy="801" r="2.0" fill="#6aff72"/>
<circle cx="199.1" cy="793.2" r="1.3" fill="#6aff72"/>
<circle cx="208.3" cy="787.4" r="1.0" fill="#6aff72"/>
<circle cx="174" cy="815.5" r="1.5" fill="#6aff72"/>
<circle cx="150" cy="775" r="1.8" fill="#6aff72"/>
<circle cx="289" cy="751" r="0.6" fill="#6aff72"/>
<circle cx="222" cy="763" r="0.5" fill="#6aff72"/>
<circle cx="300" cy="741" r="0.5" fill="#6aff72"/>
</g>
</g></g>
</svg>
</body></html>
